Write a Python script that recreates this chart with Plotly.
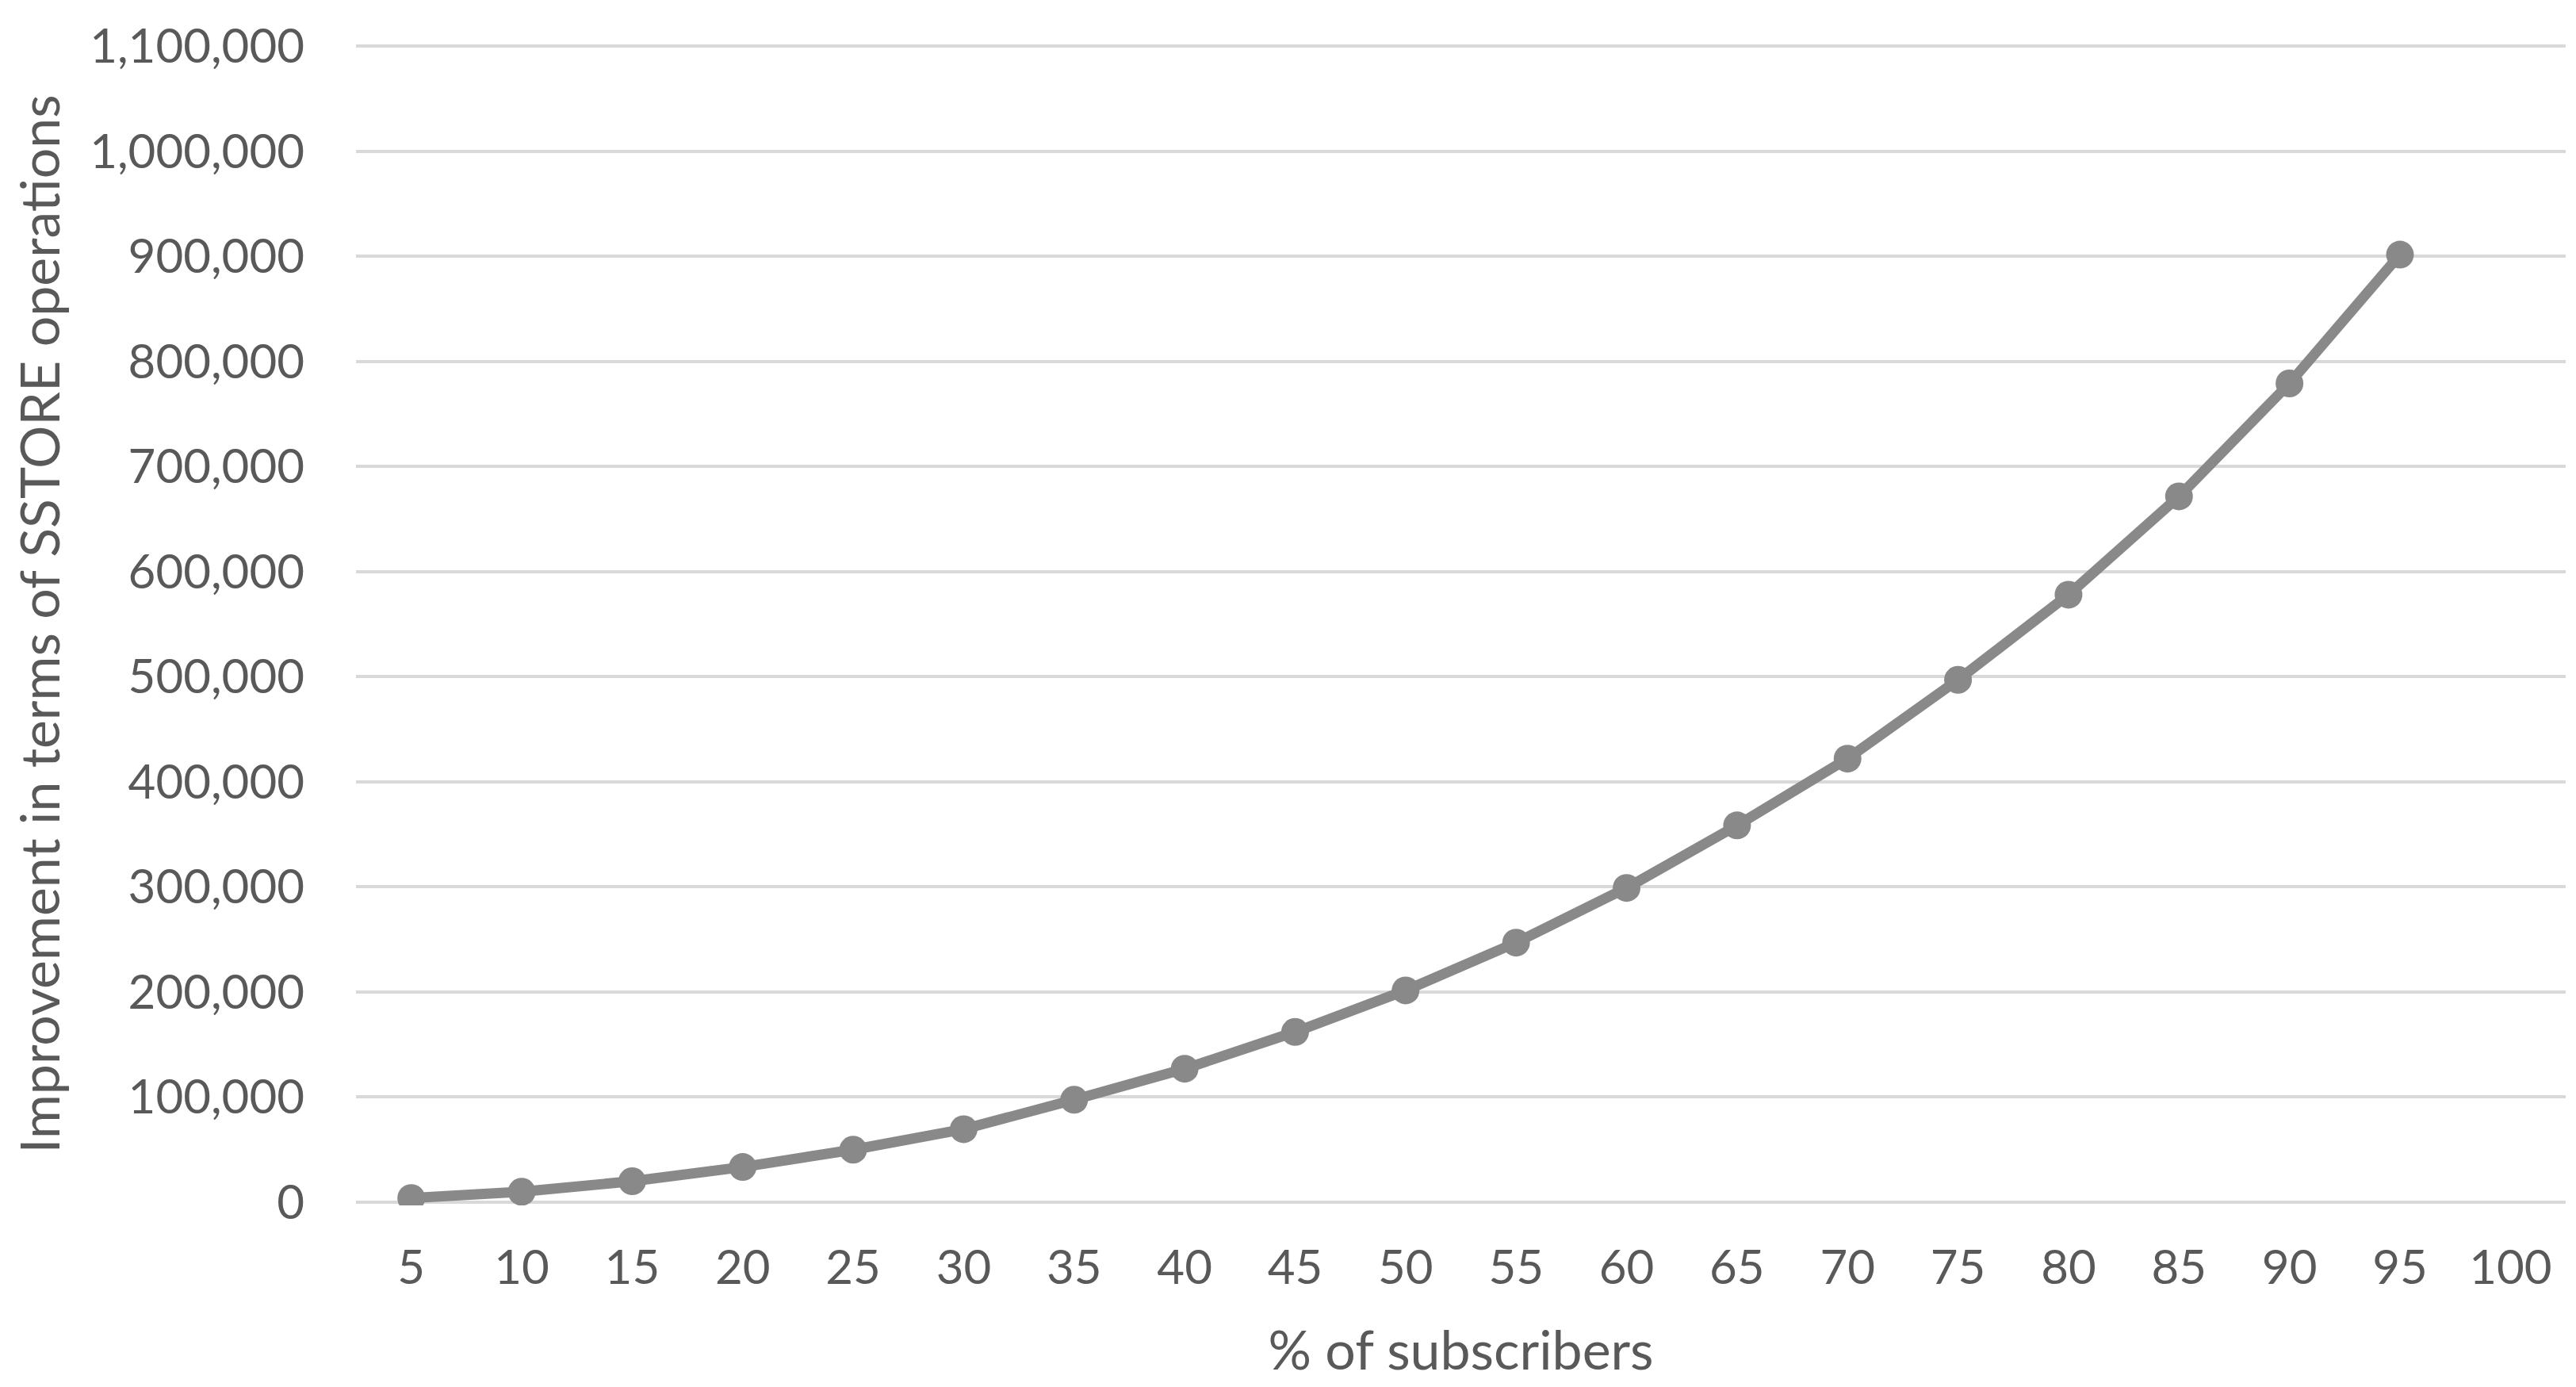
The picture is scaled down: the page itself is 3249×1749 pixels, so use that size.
import plotly.graph_objects as go

# % of subscribers (category axis, 100 has no value)
categories = ["5", "10", "15", "20", "25", "30", "35", "40", "45", "50",
              "55", "60", "65", "70", "75", "80", "85", "90", "95", "100"]
improvement = [4000, 10000, 20000, 33500, 50000, 69500, 97500, 127000, 162000,
               201500, 247000, 299000, 358500, 422000, 497000, 578000, 671500,
               779000, 901500]
y_ticks = list(range(0, 1100001, 100000))

LINE = "#898989"
TEXT = "#595959"
GRID = "#d9d9d9"
FONT = "Lato"

fig = go.Figure()
fig.add_trace(go.Scatter(
    x=categories[:len(improvement)],
    y=improvement,
    mode="lines+markers",
    line=dict(color=LINE, width=13),
    marker=dict(color=LINE, size=35),
    showlegend=False,
))

fig.update_layout(
    width=3249, height=1749,
    margin=dict(l=441, r=21, t=44, b=237),
    plot_bgcolor="white", paper_bgcolor="white",
    font=dict(family=FONT, color=TEXT, size=60),
)
fig.update_xaxes(
    type="category", categoryorder="array", categoryarray=categories,
    range=[-0.5, len(categories) - 0.5],
    showgrid=False, zeroline=False, showline=False,
    ticks="", ticklabelstandoff=38,
    tickfont=dict(size=60, color=TEXT),
    title=dict(text="% of subscribers", font=dict(size=68, color=TEXT), standoff=48),
)
# pad the range a little so the 0 and 1,100,000 gridlines are drawn
fig.update_yaxes(
    range=[-3000, 1103000], tickvals=y_ticks, tickformat=",d",
    showgrid=True, gridcolor=GRID, gridwidth=4,
    zeroline=False, showline=False, ticks="",
    ticklabelstandoff=64,
    tickfont=dict(size=60, color=TEXT),
    title=dict(text="Improvement in terms of SSTORE operations",
               font=dict(size=68, color=TEXT), standoff=26),
)

fig.write_html("out.html")
